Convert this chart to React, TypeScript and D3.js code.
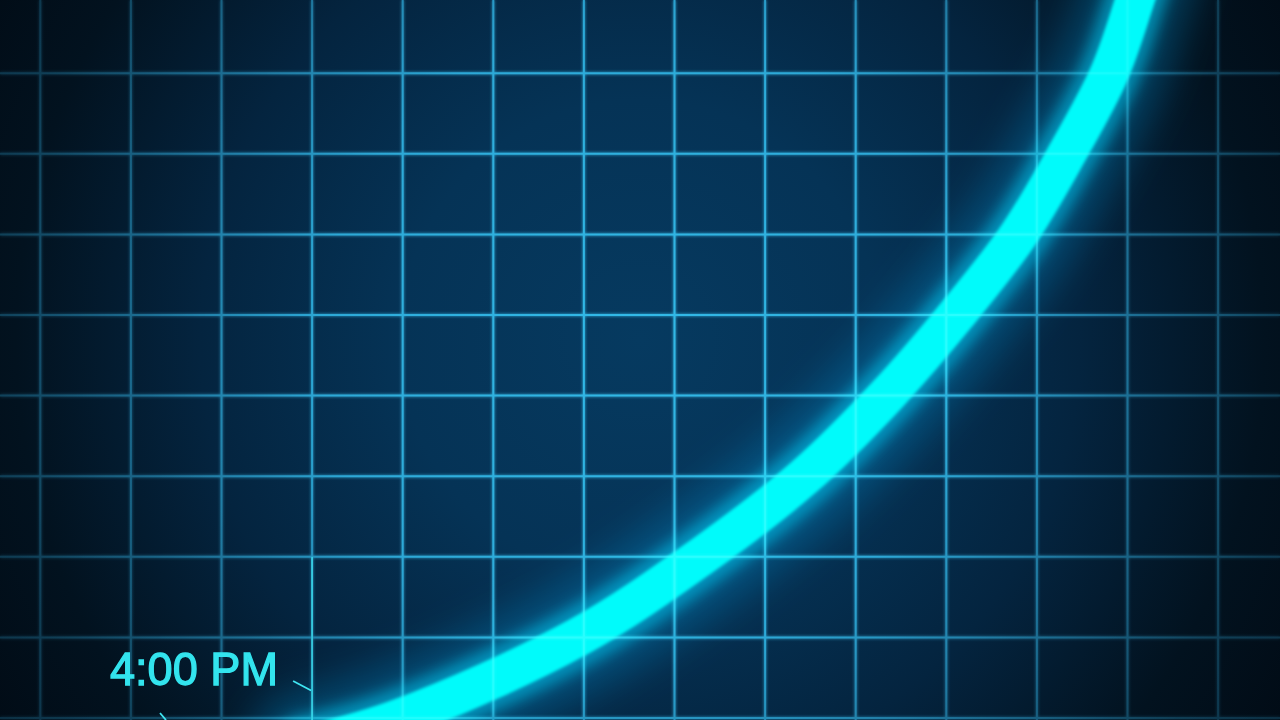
import React from "react";
import * as d3 from "d3";

// Grid ticks (data units)
const gridXTicks = [0, 1, 2, 3, 4, 5, 6, 7, 8, 9, 10, 11, 12, 13];
const gridYTicks = [0, 1, 2, 3, 4, 5, 6, 7, 8];

// Curve values (x in grid columns, y in grid rows)
const curveX = [2.9, 3.97, 5.93, 7.29, 8.44, 9.34, 10.11, 10.8, 11.33, 11.8, 12.08, 12.3];
const curveY = [-0.35, 0, 1, 2, 3, 4, 5, 6, 7, 8, 8.9, 9.7];

// Time marker
const markerLabels = ["4:00 PM"];
const markerX = [3];

const W = 1280;
const H = 720;

export default function App() {
  const x = d3.scaleLinear().domain([0, 13]).range([40.3, 40.3 + 90.6 * 13]);
  const y = d3.scaleLinear().domain([0, 8]).range([718, 718 - 80.6 * 8]);

  const pts = curveX.map((cx, i) => [cx, curveY[i]] as [number, number]);
  const line = d3
    .line<[number, number]>()
    .x((d) => x(d[0]))
    .y((d) => y(d[1]))
    .curve(d3.curveCatmullRom.alpha(0.5));
  const path = line(pts) || "";

  const mx = x(markerX[0]);

  return (
    <svg
      width={W}
      height={H}
      style={{ position: "fixed", left: 0, top: 0, display: "block" }}
    >
      <defs>
        <radialGradient id="bgGrad" gradientUnits="userSpaceOnUse" cx={640} cy={340} r={800}>
          <stop offset="0" stopColor="#063a60" />
          <stop offset="0.3" stopColor="#053356" />
          <stop offset="0.55" stopColor="#04243f" />
          <stop offset="0.78" stopColor="#02121f" />
          <stop offset="1" stopColor="#010912" />
        </radialGradient>
        <radialGradient id="maskGrad" gradientUnits="userSpaceOnUse" cx={640} cy={340} r={800}>
          <stop offset="0" stopColor="#ffffff" />
          <stop offset="0.4" stopColor="#e6e6e6" />
          <stop offset="0.62" stopColor="#8a8a8a" />
          <stop offset="0.82" stopColor="#4a4a4a" />
          <stop offset="1" stopColor="#303030" />
        </radialGradient>
        <mask id="vig" maskUnits="userSpaceOnUse" x={0} y={0} width={W} height={H}>
          <rect x={0} y={0} width={W} height={H} fill="url(#maskGrad)" />
        </mask>
        <filter id="blurBig" filterUnits="userSpaceOnUse" x={-300} y={-300} width={W + 600} height={H + 600}>
          <feGaussianBlur stdDeviation={18} />
        </filter>
        <filter id="blurMid" filterUnits="userSpaceOnUse" x={-300} y={-300} width={W + 600} height={H + 600}>
          <feGaussianBlur stdDeviation={7} />
        </filter>
        <filter id="blurSmall" filterUnits="userSpaceOnUse" x={-300} y={-300} width={W + 600} height={H + 600}>
          <feGaussianBlur stdDeviation={1.6} />
        </filter>
        <filter id="lineGlow" filterUnits="userSpaceOnUse" x={-50} y={-50} width={W + 100} height={H + 100}>
          <feGaussianBlur in="SourceGraphic" stdDeviation={1.5} result="b" />
          <feMerge>
            <feMergeNode in="b" />
            <feMergeNode in="SourceGraphic" />
          </feMerge>
        </filter>
      </defs>

      <rect x={0} y={0} width={W} height={H} fill="url(#bgGrad)" />

      {/* glowing curve */}
      <g fill="none" strokeLinecap="round">
        <path d={path} stroke="#0090d0" strokeWidth={110} strokeOpacity={0.32} filter="url(#blurBig)" />
        <path d={path} stroke="#00d8ff" strokeWidth={60} strokeOpacity={0.5} filter="url(#blurMid)" />
        <path d={path} stroke="#06fbfb" strokeWidth={39} filter="url(#blurSmall)" />
      </g>

      {/* grid */}
      <g mask="url(#vig)" style={{ mixBlendMode: "screen" }} filter="url(#lineGlow)">
        {gridXTicks.map((t) => (
          <line key={"vx" + t} x1={x(t)} x2={x(t)} y1={0} y2={H} stroke="#2ea6da" strokeWidth={2} />
        ))}
        {gridYTicks.map((t) => (
          <line key={"hy" + t} x1={0} x2={W} y1={y(t)} y2={y(t)} stroke="#2ea6da" strokeWidth={2} />
        ))}
      </g>

      {/* highlighted marker segment */}
      <line x1={mx} x2={mx} y1={y(2)} y2={H} stroke="#3fe6f2" strokeWidth={1.8} strokeOpacity={0.7} />
      <line x1={mx - 19} y1={681} x2={mx - 1} y2={690.5} stroke="#3fe6f2" strokeWidth={1.8} />
      <line x1={160} y1={713} x2={166} y2={720} stroke="#3fe6f2" strokeWidth={1.8} />

      <text
        x={110}
        y={685}
        fill="#33e4ee"
        stroke="#33e4ee"
        strokeWidth={1.3}
        fontFamily="'Liberation Sans', Arial, sans-serif"
        fontSize={47}
        textLength={168}
        lengthAdjust="spacingAndGlyphs"
      >
        {markerLabels[0]}
      </text>
    </svg>
  );
}
